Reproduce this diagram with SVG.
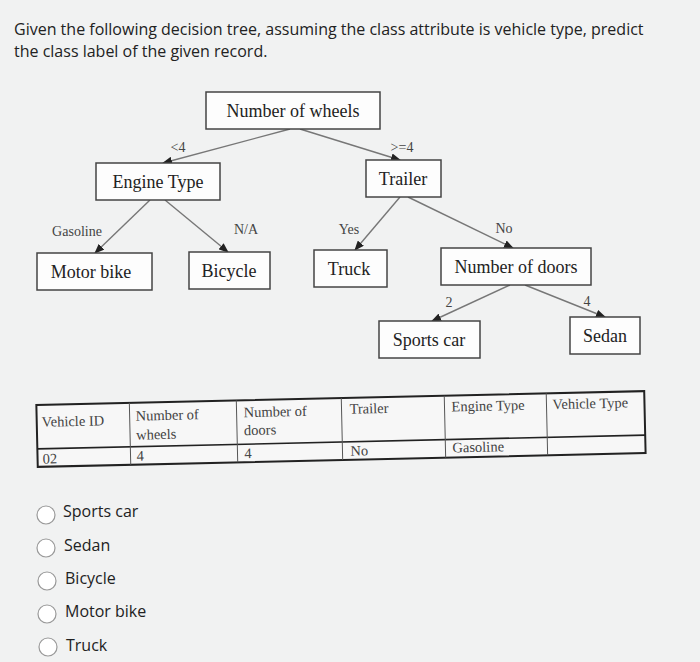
<svg xmlns="http://www.w3.org/2000/svg" width="700" height="662" viewBox="0 0 700 662">
<style>
.q{font-family:"Open Sans","Liberation Sans",sans-serif;font-size:16px;fill:#222}
.n{fill:#fdfdfd;stroke:#444;stroke-width:1.5}
.t{font-family:"Liberation Serif",serif;font-size:18px;fill:#222;text-anchor:middle}
.l{font-family:"Liberation Serif",serif;font-size:14px;fill:#444;text-anchor:middle}
.e{stroke:#777;stroke-width:1.4;fill:none;marker-end:url(#a)}
.c{font-family:"Liberation Serif",serif;font-size:14.5px;fill:#444}
.o{fill:#fff;stroke:#999;stroke-width:1.2}
</style>
<defs><marker id="a" markerWidth="10" markerHeight="8" refX="9" refY="4" orient="auto" markerUnits="userSpaceOnUse"><path d="M0,0L10,4L0,8z" fill="#222"/></marker></defs>
<rect width="700" height="662" fill="#f1f2f2"/>
<text class="q" x="14" y="35">Given the following decision tree, assuming the class attribute is vehicle type, predict</text>
<text class="q" x="14" y="57">the class label of the given record.</text>
<g id="edges">
<path class="e" d="M290,129L163,163"/><path class="e" d="M300,129L400,160"/>
<path class="e" d="M150,200L95,253"/><path class="e" d="M165,200L228,252"/>
<path class="e" d="M400,197L355,250"/><path class="e" d="M408,197L513,248"/>
<path class="e" d="M510,285L432,321"/><path class="e" d="M525,285L605,317"/>
<text class="l" x="178" y="152">&lt;4</text><text class="l" x="402" y="152">&gt;=4</text>
<text class="l" x="77" y="236">Gasoline</text><text class="l" x="246" y="234">N/A</text>
<text class="l" x="349" y="234">Yes</text><text class="l" x="504" y="233">No</text>
<text class="l" x="449" y="307">2</text><text class="l" x="587" y="306">4</text>
</g>
<g id="n1"><rect class="n" x="206" y="92" width="174" height="37"/><text class="t" x="293" y="117">Number of wheels</text></g>
<g id="n2"><rect class="n" x="96" y="163" width="124" height="37"/><text class="t" x="158" y="188">Engine Type</text></g>
<g id="n3"><rect class="n" x="366" y="160" width="75" height="37"/><text class="t" x="403" y="185">Trailer</text></g>
<g id="n4"><rect class="n" x="37" y="253" width="115" height="37"/><text class="t" x="91" y="278">Motor bike</text></g>
<g id="n5"><rect class="n" x="189" y="252" width="81" height="37"/><text class="t" x="229" y="277">Bicycle</text></g>
<g id="n6"><rect class="n" x="314" y="250" width="73" height="37"/><text class="t" x="349" y="275">Truck</text></g>
<g id="n7"><rect class="n" x="441" y="248" width="150" height="37"/><text class="t" x="516" y="273">Number of doors</text></g>
<g id="n8"><rect class="n" x="379" y="321" width="101" height="37"/><text class="t" x="429" y="346">Sports car</text></g>
<g id="n9"><rect class="n" x="570" y="317" width="70" height="37"/><text class="t" x="605" y="342">Sedan</text></g>
<g id="table" transform="rotate(-1.3 341 430)">
<rect x="37" y="398" width="608" height="62" fill="#f7f7f7" stroke="#222" stroke-width="2"/>
<path d="M37,442H645" stroke="#222" stroke-width="1.6"/>
<path d="M130,398V460M237,398V460M342,398V460M445,398V460M547,398V460" stroke="#555" stroke-width="1"/>
<text class="c" x="42" y="420">Vehicle ID</text>
<text class="c" x="136" y="416">Number of</text><text class="c" x="136" y="435">wheels</text>
<text class="c" x="244" y="415">Number of</text><text class="c" x="244" y="433">doors</text>
<text class="c" x="350" y="414">Trailer</text>
<text class="c" x="452" y="414">Engine Type</text>
<text class="c" x="553" y="414">Vehicle Type</text>
<text class="c" x="42" y="457">02</text><text class="c" x="136" y="456">4</text><text class="c" x="244" y="456">4</text>
<text class="c" x="350" y="456">No</text><text class="c" x="452" y="455">Gasoline</text>
</g>
<g id="options">
<circle class="o" cx="46" cy="515" r="9"/><text class="q" x="63" y="517">Sports car</text>
<circle class="o" cx="46" cy="548" r="9"/><text class="q" x="64" y="551">Sedan</text>
<circle class="o" cx="47" cy="581" r="9"/><text class="q" x="65" y="584">Bicycle</text>
<circle class="o" cx="47" cy="614" r="9"/><text class="q" x="65" y="617">Motor bike</text>
<circle class="o" cx="48" cy="647" r="9"/><text class="q" x="66" y="651">Truck</text>
</g>
</svg>
